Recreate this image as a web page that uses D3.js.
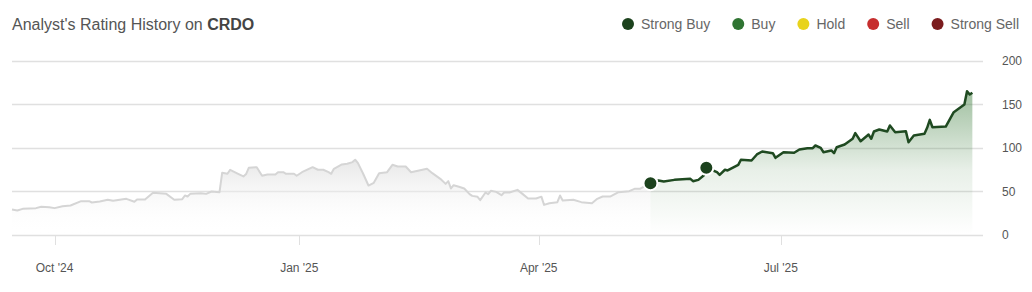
<!DOCTYPE html>
<html>
<head>
<meta charset="utf-8">
<script src="https://cdn.jsdelivr.net/npm/d3@7"></script>
<style>
  html, body { margin: 0; padding: 0; background: #fff; }
  svg { display: block; font-family: "Liberation Sans", Arial, sans-serif; }
</style>
</head>
<body>
<svg id="chart" width="1032" height="292"></svg>
<script>
// ---------- DATA ----------
const title = "Analyst's Rating History on ";
const ticker = "CRDO";

const legendLabels = ["Strong Buy", "Buy", "Hold", "Sell", "Strong Sell"];
const legendColors = ["#1c421d", "#2f7432", "#e8d31c", "#c62e2e", "#7b1c1e"];

const yTicks = [0, 50, 100, 150, 200];
const xTickDates = ["2024-10-01", "2025-01-01", "2025-04-01", "2025-07-01"];
const xTickLabels = ["Oct '24", "Jan '25", "Apr '25", "Jul '25"];

// price history before coverage (grey)
const priceDates = [
  "2024-09-15","2024-09-17","2024-09-19","2024-09-24","2024-09-26","2024-09-29","2024-10-01","2024-10-04",
  "2024-10-07","2024-10-11","2024-10-14","2024-10-15","2024-10-18","2024-10-21","2024-10-23","2024-10-28",
  "2024-10-31","2024-11-01","2024-11-04","2024-11-07","2024-11-12","2024-11-15","2024-11-18","2024-11-19",
  "2024-11-20","2024-11-21","2024-11-25","2024-11-27","2024-11-29","2024-12-02","2024-12-03","2024-12-05",
  "2024-12-06","2024-12-09","2024-12-11","2024-12-12","2024-12-13","2024-12-16","2024-12-18","2024-12-20",
  "2024-12-23","2024-12-24","2024-12-26","2024-12-27","2024-12-30","2024-12-31","2025-01-02","2025-01-06",
  "2025-01-08","2025-01-10","2025-01-12","2025-01-13","2025-01-14","2025-01-17","2025-01-19","2025-01-21",
  "2025-01-22","2025-01-23","2025-01-25","2025-01-27","2025-01-29","2025-01-31","2025-02-03","2025-02-05",
  "2025-02-07","2025-02-10","2025-02-12","2025-02-15","2025-02-18","2025-02-20","2025-02-23","2025-02-25",
  "2025-02-26","2025-02-27","2025-02-28","2025-03-02","2025-03-04","2025-03-06","2025-03-07","2025-03-09",
  "2025-03-10","2025-03-12","2025-03-13","2025-03-14","2025-03-16","2025-03-18","2025-03-19","2025-03-21",
  "2025-03-24","2025-03-26","2025-03-28","2025-03-31","2025-04-02","2025-04-03","2025-04-05","2025-04-08",
  "2025-04-09","2025-04-10","2025-04-14","2025-04-17","2025-04-21","2025-04-23","2025-04-25","2025-04-28",
  "2025-05-01","2025-05-05","2025-05-07","2025-05-09","2025-05-13"
];
const priceValues = [
  28.7,27.6,29.5,30.3,31.8,31.4,30.3,32.5,
  33.3,38.3,38.3,36.8,37.9,39.9,38.7,41.0,
  37.6,40.2,40.2,47.9,46.7,39.9,40.6,44.8,
  43.7,46.7,47.5,46.7,49.4,48.6,70.9,69.8,
  74.4,69.8,66.7,69.5,76.7,77.4,67.5,69.0,
  69.0,71.6,71.6,69.8,69.8,67.5,71.6,77.4,
  74.4,74.4,71.6,69.8,75.5,80.5,81.3,83.2,
  85.9,82.4,69.8,56.3,59.4,70.5,71.6,80.1,
  78.2,78.2,71.6,73.6,75.5,70.5,64.0,58.2,
  61.3,52.9,56.7,54.8,52.9,46.4,44.4,43.3,
  39.5,48.3,46.4,50.2,49.0,45.2,48.3,48.3,
  51.3,46.4,41.4,41.4,43.5,34.0,36.0,37.2,
  44.8,39.1,39.9,37.2,36.0,41.0,43.7,43.7,
  48.6,49.8,52.5,52.5,59.0
];

// price history while covered (green)
const ratedDates = [
  "2025-05-13","2025-05-16","2025-05-18","2025-05-22","2025-05-28","2025-05-29","2025-05-31","2025-06-02",
  "2025-06-03","2025-06-07","2025-06-08","2025-06-10","2025-06-11","2025-06-15","2025-06-16","2025-06-20",
  "2025-06-22","2025-06-24","2025-06-28","2025-06-29","2025-07-02","2025-07-06","2025-07-08","2025-07-11",
  "2025-07-13","2025-07-14","2025-07-16","2025-07-17","2025-07-20","2025-07-21","2025-07-22","2025-07-25",
  "2025-07-28","2025-07-29","2025-07-31","2025-08-03","2025-08-04","2025-08-05","2025-08-07","2025-08-10",
  "2025-08-11","2025-08-13","2025-08-17","2025-08-18","2025-08-20","2025-08-24","2025-08-25","2025-08-26",
  "2025-08-27","2025-09-01","2025-09-04","2025-09-08","2025-09-09","2025-09-10","2025-09-11"
];
const ratedValues = [
  59.0,62.0,60.9,62.8,64.0,61.3,62.8,67.8,
  76.7,71.6,68.6,74.4,73.6,80.1,85.9,85.1,
  92.0,95.4,93.5,88.1,94.6,93.9,97.7,99.2,
  99.2,102.3,99.6,94.6,96.6,93.5,100.3,103.4,
  110.0,116.5,107.2,114.9,110.0,118.4,120.7,118.4,
  125.3,117.6,118.8,106.1,113.8,115.7,122.6,131.8,
  123.3,124.1,140.6,149.4,164.7,160.9,162.9
];

// analyst rating events
const ratingDates = ["2025-05-13", "2025-06-03"];
const ratingValues = [59.0, 76.7];
const ratingTypes = ["Strong Buy", "Strong Buy"];

// ---------- CHART ----------
const parse = d3.timeParse("%Y-%m-%d");
const svg = d3.select("#chart");
const font = "'Liberation Sans', Arial, sans-serif";

const x = d3.scaleTime()
  .domain([parse("2024-09-15"), parse("2025-09-15")])
  .range([12, 983]);
const y = d3.scaleLinear().domain([0, 200]).range([234.5, 60.5]);

const grey = priceDates.map((d, i) => ({ date: parse(d), v: priceValues[i] }));
const green = ratedDates.map((d, i) => ({ date: parse(d), v: ratedValues[i] }));
const dots = ratingDates.map((d, i) => ({ date: parse(d), v: ratingValues[i], t: ratingTypes[i] }));

// gradients
const defs = svg.append("defs");
const gG = defs.append("linearGradient").attr("id", "gGrey")
  .attr("gradientUnits", "userSpaceOnUse")
  .attr("x1", 0).attr("x2", 0).attr("y1", y(85)).attr("y2", y(0));
gG.append("stop").attr("offset", 0).attr("stop-color", "#e2e2e2").attr("stop-opacity", 0.8);
gG.append("stop").attr("offset", 1).attr("stop-color", "#ffffff").attr("stop-opacity", 0);

const gN = defs.append("linearGradient").attr("id", "gGreen")
  .attr("gradientUnits", "userSpaceOnUse")
  .attr("x1", 0).attr("x2", 0).attr("y1", y(165)).attr("y2", y(0));
gN.append("stop").attr("offset", 0).attr("stop-color", "#3f7f3f").attr("stop-opacity", 0.5);
gN.append("stop").attr("offset", 0.55).attr("stop-color", "#3f7f3f").attr("stop-opacity", 0.12);
gN.append("stop").attr("offset", 1).attr("stop-color", "#3f7f3f").attr("stop-opacity", 0);

// grid lines (y)
svg.append("g").selectAll("line").data(yTicks).join("line")
  .attr("x1", 12).attr("x2", 983)
  .attr("y1", d => Math.round(y(d)) + 0.5).attr("y2", d => Math.round(y(d)) + 0.5)
  .attr("stroke", "#e0e0e0").attr("stroke-width", 1.3);

// y labels
svg.append("g").selectAll("text").data(yTicks).join("text")
  .attr("x", 1002).attr("y", d => y(d) + 4.5)
  .attr("font-size", 12).attr("fill", "#555").attr("font-family", font)
  .text(d => d);

// x ticks
const xt = xTickDates.map((d, i) => ({ date: parse(d), label: xTickLabels[i] }));
svg.append("g").selectAll("line").data(xt).join("line")
  .attr("x1", d => Math.round(x(d.date)) + 0.5).attr("x2", d => Math.round(x(d.date)) + 0.5)
  .attr("y1", 235).attr("y2", 245)
  .attr("stroke", "#e0e0e0").attr("stroke-width", 1);
svg.append("g").selectAll("text").data(xt).join("text")
  .attr("x", d => x(d.date)).attr("y", 272)
  .attr("text-anchor", "middle")
  .attr("font-size", 12).attr("fill", "#555").attr("font-family", font)
  .text(d => d.label);

// areas
const area = d3.area().x(d => x(d.date)).y0(y(0)).y1(d => y(d.v));
const line = d3.line().x(d => x(d.date)).y(d => y(d.v));

svg.append("path").datum(grey).attr("d", area).attr("fill", "url(#gGrey)");
svg.append("path").datum(green).attr("d", area).attr("fill", "url(#gGreen)");

svg.append("path").datum(grey).attr("d", line)
  .attr("fill", "none").attr("stroke", "#d5d5d5").attr("stroke-width", 2)
  .attr("stroke-linejoin", "round");
svg.append("path").datum(green).attr("d", line)
  .attr("fill", "none").attr("stroke", "#1f4a21").attr("stroke-width", 2.5)
  .attr("stroke-linejoin", "round");

// rating dots
const colorOf = d3.scaleOrdinal().domain(legendLabels).range(legendColors);
svg.append("g").selectAll("circle").data(dots).join("circle")
  .attr("cx", d => x(d.date)).attr("cy", d => y(d.v)).attr("r", 7)
  .attr("fill", d => colorOf(d.t)).attr("stroke", "#fff").attr("stroke-width", 2);

// title
const t = svg.append("text").attr("x", 12).attr("y", 30)
  .attr("font-size", 16).attr("fill", "#555").attr("font-family", font);
t.append("tspan").text(title);
t.append("tspan").attr("font-weight", "bold").attr("fill", "#444").text(ticker);

// legend
const lg = svg.append("g");
let cx = 628;
legendLabels.forEach((lab, i) => {
  lg.append("circle").attr("cx", cx).attr("cy", 24).attr("r", 6).attr("fill", legendColors[i]);
  const tx = lg.append("text").attr("x", cx + 13).attr("y", 29)
    .attr("font-size", 14).attr("fill", "#666").attr("font-family", font).text(lab);
  const w = tx.node().getComputedTextLength();
  cx = cx + 13 + w + 28;
});
</script>
</body>
</html>
